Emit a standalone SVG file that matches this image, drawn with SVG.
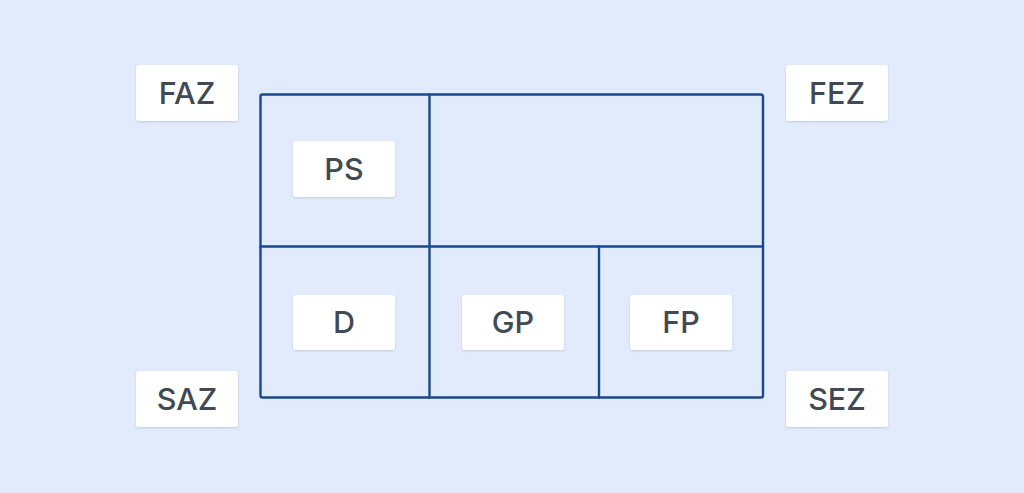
<svg xmlns="http://www.w3.org/2000/svg" width="1024" height="493" viewBox="0 0 1024 493">
<defs>
<filter id="sh" x="-20%" y="-20%" width="140%" height="150%">
<feDropShadow dx="0" dy="1" stdDeviation="1.2" flood-color="#5a6e90" flood-opacity="0.25"/>
</filter>
<style>
.box{fill:#ffffff;filter:url(#sh)}
.lbl{font-family:Inter,Lato,"Liberation Sans",sans-serif;font-size:30.5px;font-weight:500;fill:#414a54;text-anchor:middle}
.ln{fill:none;stroke:#1a488c;stroke-width:2.4;stroke-linecap:round;stroke-linejoin:round}
</style>
</defs>
<rect width="1024" height="493" fill="#e1ebfc"/>
<g id="connectors">
<rect class="ln" x="260.5" y="94.5" width="502.5" height="303" rx="2"/>
<line class="ln" x1="260.5" y1="246.5" x2="763" y2="246.5"/>
<line class="ln" x1="429.5" y1="94.5" x2="429.5" y2="397.5"/>
<line class="ln" x1="599" y1="246.5" x2="599" y2="397.5"/>
</g>
<g id="FAZ"><rect class="box" x="136" y="65" width="102" height="56" rx="3"/><text class="lbl" x="187" y="103.5">FAZ</text></g>
<g id="FEZ"><rect class="box" x="786" y="65" width="102" height="56" rx="3"/><text class="lbl" x="837" y="103.5">FEZ</text></g>
<g id="SAZ"><rect class="box" x="136" y="371" width="102" height="56" rx="3"/><text class="lbl" x="187" y="410">SAZ</text></g>
<g id="SEZ"><rect class="box" x="786" y="371" width="102" height="56" rx="3"/><text class="lbl" x="837" y="410">SEZ</text></g>
<g id="PS"><rect class="box" x="293" y="141" width="102" height="56" rx="3"/><text class="lbl" x="344" y="179.5">PS</text></g>
<g id="D"><rect class="box" x="293" y="295" width="102" height="55" rx="3"/><text class="lbl" x="344" y="333">D</text></g>
<g id="GP"><rect class="box" x="462" y="295" width="102" height="55" rx="3"/><text class="lbl" x="513" y="333">GP</text></g>
<g id="FP"><rect class="box" x="630" y="295" width="102" height="55" rx="3"/><text class="lbl" x="681" y="333">FP</text></g>
</svg>
